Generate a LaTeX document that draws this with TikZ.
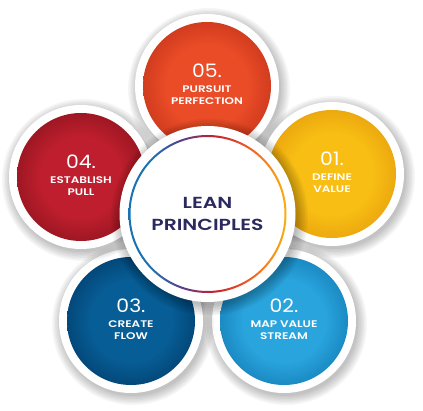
\documentclass[tikz,border=0pt]{standalone}
\usepackage{fontspec}
\setmainfont{Poppins}[BoldFont={Poppins SemiBold}]
\definecolor{c05}{HTML}{EA4C27}\definecolor{c05d}{HTML}{D23C1F}
\definecolor{c01}{HTML}{F8BE14}\definecolor{c01d}{HTML}{ECA90F}
\definecolor{c02}{HTML}{29A4DD}\definecolor{c02d}{HTML}{1B8AC3}
\definecolor{c03}{HTML}{075D95}\definecolor{c03d}{HTML}{03487A}
\definecolor{c04}{HTML}{BE1E2D}\definecolor{c04d}{HTML}{9E1723}
\definecolor{navy}{HTML}{2B2A5F}
\definecolor{rblue}{HTML}{1B72B2}
\definecolor{rpurple}{HTML}{5B3F8C}
\definecolor{rred}{HTML}{C2202E}
\definecolor{rorange}{HTML}{E9502A}
\definecolor{ramber}{HTML}{F57F1F}
\definecolor{ryellow}{HTML}{F9B10F}
\pgfdeclareradialshading{sh05}{\pgfpoint{0bp}{0bp}}{color(0bp)=(c05); color(16bp)=(c05); color(25bp)=(c05d); color(50bp)=(c05d)}
\pgfdeclareradialshading{sh01}{\pgfpoint{0bp}{0bp}}{color(0bp)=(c01); color(16bp)=(c01); color(25bp)=(c01d); color(50bp)=(c01d)}
\pgfdeclareradialshading{sh02}{\pgfpoint{0bp}{0bp}}{color(0bp)=(c02); color(16bp)=(c02); color(25bp)=(c02d); color(50bp)=(c02d)}
\pgfdeclareradialshading{sh03}{\pgfpoint{0bp}{0bp}}{color(0bp)=(c03); color(16bp)=(c03); color(25bp)=(c03d); color(50bp)=(c03d)}
\pgfdeclareradialshading{sh04}{\pgfpoint{0bp}{0bp}}{color(0bp)=(c04); color(16bp)=(c04); color(25bp)=(c04d); color(50bp)=(c04d)}
\pgfdeclarehorizontalshading{ringsh}{100bp}{color(0bp)=(rblue); color(32bp)=(rblue); color(42bp)=(rpurple); color(52bp)=(rred); color(61bp)=(rorange); color(68bp)=(ramber); color(75bp)=(ryellow); color(100bp)=(ryellow)}
\tikzset{
  numtext/.style={text=white, inner sep=0pt, xscale=1.1, font=\fontsize{18.5}{18.5}\selectfont},
  labtext/.style={text=white, inner sep=0pt, align=center, xscale=1.25, font=\bfseries\fontsize{9.6}{12}\selectfont},
  centertext/.style={text=navy, inner sep=0pt, align=center, xscale=1.27, font=\bfseries\fontsize{16}{22}\selectfont},
  shadowring/.style={fill=black, opacity=0.035, draw=none}
}
\begin{document}
\begin{tikzpicture}[x=1pt,y=-1pt]
\useasboundingbox (0,0) rectangle (423,411);
\fill[white] (0,0) rectangle (423,411);
% centres
\coordinate (p05) at (207,86);
\coordinate (p01) at (332,174);
\coordinate (p02) at (284,321);
\coordinate (p03) at (131,321);
\coordinate (p04) at (81,177);
\coordinate (pc) at (207.5,214);
% outer circles
\foreach \n in {05,01,02,03,04}{
  \foreach \r in {72,73.5,...,82}{
    \path[shadowring] ([shift={(2,3)}]p\n) circle (\r pt);
  }
  \fill[white] (p\n) circle (72pt);
  \shade[shading=sh\n] (p\n) circle (64pt);
}
% texts of outer circles
\node[numtext] (n05) at ([yshift=15.5pt]p05) {05.};
\node[labtext] (l05) at ([yshift=-9pt]p05) {PURSUIT\\PERFECTION};
\node[numtext] (n01) at ([yshift=15.5pt]p01) {01.};
\node[labtext] (l01) at ([yshift=-9pt]p01) {DEFINE\\VALUE};
\node[numtext] (n02) at ([yshift=15.5pt]p02) {02.};
\node[labtext] (l02) at ([yshift=-9pt]p02) {MAP VALUE\\STREAM};
\node[numtext] (n03) at ([yshift=15.5pt]p03) {03.};
\node[labtext] (l03) at ([yshift=-9pt]p03) {CREATE\\FLOW};
\node[numtext] (n04) at ([yshift=15.5pt]p04) {04.};
\node[labtext] (l04) at ([yshift=-9pt]p04) {ESTABLISH\\PULL};
% centre circle
\foreach \r in {88,89.5,...,99}{
  \path[shadowring] ([shift={(2,3)}]pc) circle (\r pt);
}
\fill[white] (pc) circle (88pt);
\shade[shading=ringsh, even odd rule] (pc) circle (79pt) (pc) circle (77pt);
\node[centertext] (lean) at (pc) {LEAN\\PRINCIPLES};
\end{tikzpicture}
\end{document}
